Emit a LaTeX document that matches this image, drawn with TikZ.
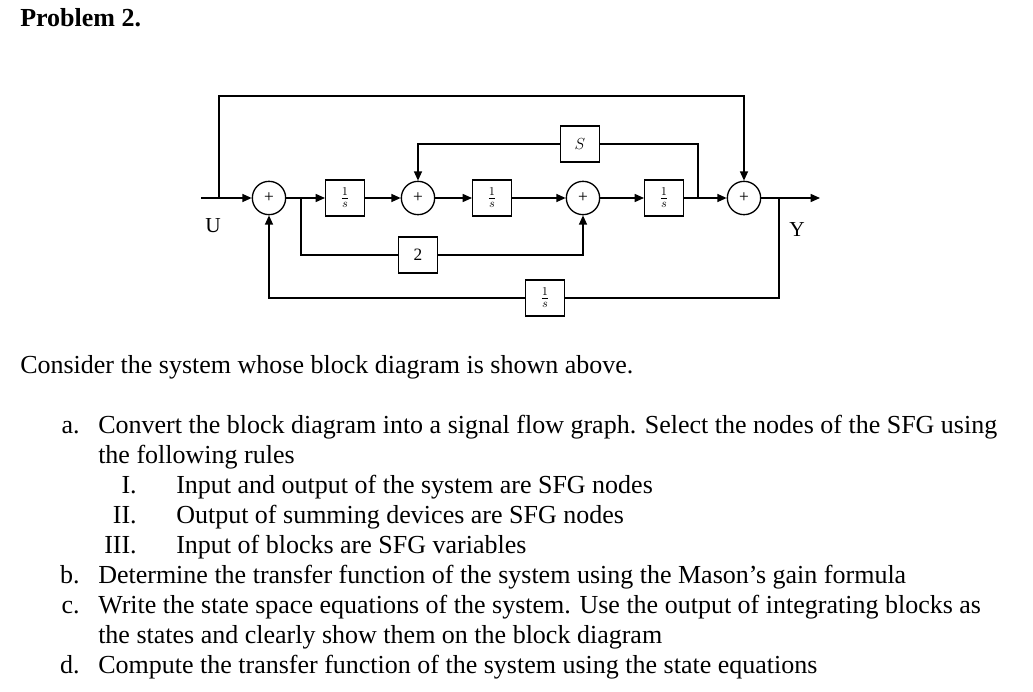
\documentclass[tikz,border=0pt]{standalone}
\usepackage{fontspec}
\setmainfont{Liberation Serif}
\usetikzlibrary{arrows.meta}
\begin{document}
\begin{tikzpicture}[x=0.75pt,y=-0.75pt,
    sig/.style={-{Triangle[length=7pt,width=6pt]},line width=1.1pt},
    wire/.style={line width=1.1pt},
    sum/.style={circle,draw,line width=1pt,minimum size=25pt,inner sep=0pt,font=\fontsize{13}{13}\selectfont},
    blk/.style={draw,line width=1pt,minimum width=29pt,minimum height=27pt,inner sep=0pt,font=\fontsize{13}{13}\selectfont},
    txt/.style={anchor=base west,inner sep=0pt,font=\fontsize{19.5}{22}\selectfont},
    num/.style={anchor=base east,inner sep=0pt,font=\fontsize{19.5}{22}\selectfont}]
  \useasboundingbox (0,0) rectangle (1033,692);

  \node[anchor=base west,inner sep=0pt,font=\fontsize{19.5}{22}\selectfont\bfseries] (title) at (20,27) {Problem 2.};

  % main path
  \coordinate (in) at (201,198);
  \node[sum] (s1) at (269,198) {+};
  \node[blk] (b1) at (345,198) {$\frac{1}{s}$};
  \node[sum] (s2) at (418,198) {+};
  \node[blk] (b2) at (492,198) {$\frac{1}{s}$};
  \node[sum] (s3) at (583,198) {+};
  \node[blk] (b3) at (664,198) {$\frac{1}{s}$};
  \node[sum] (s4) at (744,198) {+};
  \coordinate (out) at (820,198);
  \node[blk] (bS) at (580,144) {$S$};
  \node[blk] (b4) at (418,255) {2};
  \node[blk] (b5) at (545,298) {$\frac{1}{s}$};
  \node[font=\fontsize{16}{16}\selectfont] (U) at (213,226) {U};
  \node[font=\fontsize{16}{16}\selectfont] (Y) at (797,230) {Y};

  \coordinate (pU) at (219,198);
  \coordinate (p1) at (301,198);
  \coordinate (pS) at (698,198);
  \coordinate (pY) at (779,198);

  \draw[sig] (in) -- (s1);
  \draw[sig] (s1) -- (b1);
  \draw[sig] (b1) -- (s2);
  \draw[sig] (s2) -- (b2);
  \draw[sig] (b2) -- (s3);
  \draw[sig] (s3) -- (b3);
  \draw[sig] (b3) -- (s4);
  \draw[sig] (s4) -- (out);

  % feedforward from U
  \draw[sig] (pU) |- (744,96) -- (s4);
  % S loop
  \draw[wire] (pS) |- (bS);
  \draw[sig] (bS) -| (s2);
  % gain 2 path
  \draw[wire] (p1) |- (b4);
  \draw[sig] (b4) -| (s3);
  % outer feedback
  \draw[wire] (pY) |- (b5);
  \draw[sig] (b5) -| (s1);

  % text
  \node[txt] (t0) at (20,373) {Consider the system whose block diagram is shown above.};
  \node[num] (la) at (80,433) {a.};
  \node[txt] (ta) at (98,433) {Convert the block diagram into a signal flow graph. Select the nodes of the SFG using};
  \node[txt] (ta2) at (98,463) {the following rules};
  \node[num] (l1) at (137,493) {I.};
  \node[txt] (t1) at (176,493) {Input and output of the system are SFG nodes};
  \node[num] (l2) at (137,523) {II.};
  \node[txt] (t2) at (176,523) {Output of summing devices are SFG nodes};
  \node[num] (l3) at (137,553) {III.};
  \node[txt] (t3) at (176,553) {Input of blocks are SFG variables};
  \node[num] (lb) at (80,583) {b.};
  \node[txt] (tb) at (98,583) {Determine the transfer function of the system using the Mason’s gain formula};
  \node[num] (lc) at (80,613) {c.};
  \node[txt] (tc) at (98,613) {Write the state space equations of the system. Use the output of integrating blocks as};
  \node[txt] (tc2) at (98,643) {the states and clearly show them on the block diagram};
  \node[num] (ld) at (80,673) {d.};
  \node[txt] (td) at (98,673) {Compute the transfer function of the system using the state equations};
\end{tikzpicture}
\end{document}
